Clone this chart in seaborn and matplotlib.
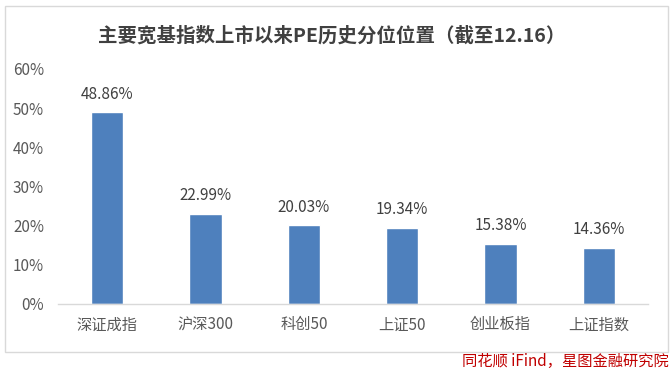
import matplotlib
matplotlib.use("Agg")
import matplotlib.pyplot as plt
import seaborn as sns
import pandas as pd
from matplotlib.patches import Rectangle

categories = ["深证成指", "沪深300", "科创50", "上证50", "创业板指", "上证指数"]
values = [48.86, 22.99, 20.03, 19.34, 15.38, 14.36]
yticks = [0, 10, 20, 30, 40, 50, 60]
title = "主要宽基指数上市以来PE历史分位位置（截至12.16）"
source = "同花顺 iFind，星图金融研究院"

sns.set_theme(style="white")
plt.rcParams['font.family'] = ['Noto Sans CJK SC', 'DejaVu Sans']

df = pd.DataFrame({"cat": categories, "val": values})

fig = plt.figure(figsize=(6.72, 3.72), dpi=100)
ax = fig.add_axes([0.0863, 0.183, 0.878, 0.632])
sns.barplot(data=df, x="cat", y="val", color="#4E80BD", saturation=1, width=0.33, ax=ax)

ax.set_ylim(0, 60)
ax.set_yticks(yticks)
ax.set_yticklabels([f"{t}%" for t in yticks], fontsize=11, color="#595959")
ax.set_xticks(range(len(categories)))
ax.set_xticklabels(categories, fontsize=11, color="#595959")
ax.set_xlabel("")
ax.set_ylabel("")
ax.tick_params(axis="y", length=0, pad=10)
ax.tick_params(axis="x", length=0, pad=9)
for s in ["top", "right", "left"]:
    ax.spines[s].set_visible(False)
ax.spines["bottom"].set_color("#D9D9D9")
ax.spines["bottom"].set_linewidth(1)
ax.set_xlim(-0.5, len(categories) - 0.5)

for container in ax.containers:
    ax.bar_label(container, labels=[f"{v:.2f}%" for v in values], padding=7,
                 fontsize=11, color="#404040")

fig.text(0.493, 0.905, title, ha="center", va="center", fontsize=14,
         fontweight="bold", color="#404040")
fig.text(0.995, 0.005, source, ha="right", va="bottom", fontsize=11,
         style="italic", color="#C00000")

fig.patches.append(Rectangle((0.008, 0.055), 0.986, 0.93, transform=fig.transFigure,
                             fill=False, edgecolor="#D9D9D9", linewidth=1))

fig.savefig("out.png", dpi=100)
